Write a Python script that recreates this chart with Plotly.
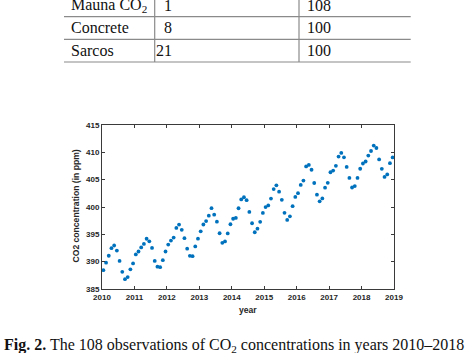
import plotly.graph_objects as go

# ---- data ----
years = list(range(2010, 2019))
co2_2010 = [388.45, 389.82, 391.08, 392.46, 392.96, 392.03, 390.13, 388.15, 386.80, 387.18, 388.59, 389.68]
co2_2011 = [391.33, 391.86, 392.60, 393.25, 394.19, 393.73, 392.51, 390.13, 389.08, 389.00, 390.28, 391.86]
co2_2012 = [393.12, 393.86, 394.40, 396.18, 396.78, 395.82, 394.29, 392.38, 391.06, 391.01, 392.79, 394.21]
co2_2013 = [395.55, 396.80, 397.43, 398.41, 399.78, 398.60, 397.32, 395.20, 393.45, 393.70, 395.16, 396.84]
co2_2014 = [397.85, 398.01, 399.77, 401.38, 401.78, 401.25, 399.10, 397.03, 395.38, 396.03, 397.28, 398.91]
co2_2015 = [399.98, 400.28, 401.54, 403.28, 403.96, 402.80, 401.31, 398.93, 397.63, 398.29, 400.16, 401.85]
co2_2016 = [402.52, 404.04, 404.83, 407.42, 407.70, 406.81, 404.39, 402.25, 401.03, 401.57, 403.53, 404.42]
co2_2017 = [406.36, 406.66, 407.53, 409.22, 409.89, 409.08, 407.33, 405.32, 403.57, 403.82, 405.31, 407.00]
co2_2018 = [407.96, 408.32, 409.41, 410.24, 411.24, 410.79, 408.71, 406.99, 405.51, 405.95, 408.02, 409.07]
co2_by_year = [co2_2010, co2_2011, co2_2012, co2_2013, co2_2014, co2_2015, co2_2016, co2_2017, co2_2018]

x_ticks = list(range(2010, 2020))
y_ticks = [385, 390, 395, 400, 405, 410, 415]

table_names = ["Mauna CO<sub>2</sub>", "Concrete", "Sarcos"]
table_col2 = ["1", "8", "21"]
table_col3 = ["108", "100", "100"]

caption = "<b>Fig. 2.</b> The 108 observations of CO<sub>2</sub> concentrations in years 2010–2018"
x_title = "year"
y_title = "CO2 concentration (in ppm)"

# ---- build series ----
xs, ys = [], []
for yr, vals in zip(years, co2_by_year):
    for m, v in enumerate(vals):
        xs.append(yr + (m + 0.5) / 12)
        ys.append(v)

W, H = 474, 353
L, R, T, B = 102, 394, 125, 289

def px(x):
    return (x - L) / (R - L)

def py(y):
    return (B - y) / (B - T)

fig = go.Figure()
fig.add_trace(go.Scatter(
    x=xs, y=ys, mode="markers",
    marker=dict(size=3.8, color="#0072BD", line=dict(width=0)),
    showlegend=False, cliponaxis=False,
))

axis_common = dict(
    showline=True, linecolor="#3a3a3a", linewidth=1, mirror="ticks",
    ticks="inside", ticklen=3, tickwidth=1, tickcolor="#3a3a3a",
    showgrid=False, zeroline=False,
    tickfont=dict(family="Liberation Sans", size=8, color="#262626", weight="bold"),
)
fig.update_xaxes(range=[2010, 2019], tickvals=x_ticks, **axis_common)
fig.update_yaxes(range=[385, 415], tickvals=y_ticks, **axis_common)

shapes = []
anns = []
# table lines
line_col = "#8a8a8a"
for yy in [16.7, 39.3, 62.0]:
    shapes.append(dict(type="line", xref="paper", yref="paper",
                       x0=px(64), x1=px(410.7), y0=py(yy), y1=py(yy),
                       line=dict(color=line_col, width=1.2)))
for xx in [154.7, 299.0]:
    shapes.append(dict(type="line", xref="paper", yref="paper",
                       x0=px(xx), x1=px(xx), y0=py(-2), y1=py(62.0),
                       line=dict(color=line_col, width=1.2)))

tfont = dict(family="Liberation Serif", size=16, color="#111111")
row_centers = [5.0, 27.7, 50.4]
for i, yc in enumerate(row_centers):
    anns.append(dict(xref="paper", yref="paper", x=px(69), y=py(yc), text=table_names[i],
                     showarrow=False, xanchor="left", yanchor="middle", font=tfont))
    anns.append(dict(xref="paper", yref="paper", x=px(174), y=py(yc), text=table_col2[i],
                     showarrow=False, xanchor="right", yanchor="middle", font=tfont))
    anns.append(dict(xref="paper", yref="paper", x=px(305), y=py(yc), text=table_col3[i],
                     showarrow=False, xanchor="left", yanchor="middle", font=tfont))

# axis titles
tf = dict(family="Liberation Sans", size=8.6, color="#262626", weight="bold")
anns.append(dict(xref="paper", yref="paper", x=px(75.5), y=py(206), text=y_title,
                 textangle=-90, showarrow=False, xanchor="center", yanchor="middle", font=tf))
anns.append(dict(xref="paper", yref="paper", x=px(248), y=py(309.5), text=x_title,
                 showarrow=False, xanchor="center", yanchor="middle", font=tf))

# caption
anns.append(dict(xref="paper", yref="paper", x=px(1.5), y=py(345), text=caption,
                 showarrow=False, xanchor="left", yanchor="middle",
                 font=dict(family="Liberation Serif", size=16.0, color="#111111")))

fig.update_layout(
    width=W, height=H,
    margin=dict(l=L, r=W - R, t=T, b=H - B, pad=0),
    paper_bgcolor="white", plot_bgcolor="white",
    shapes=shapes, annotations=anns,
)

fig.write_html("out.html")
